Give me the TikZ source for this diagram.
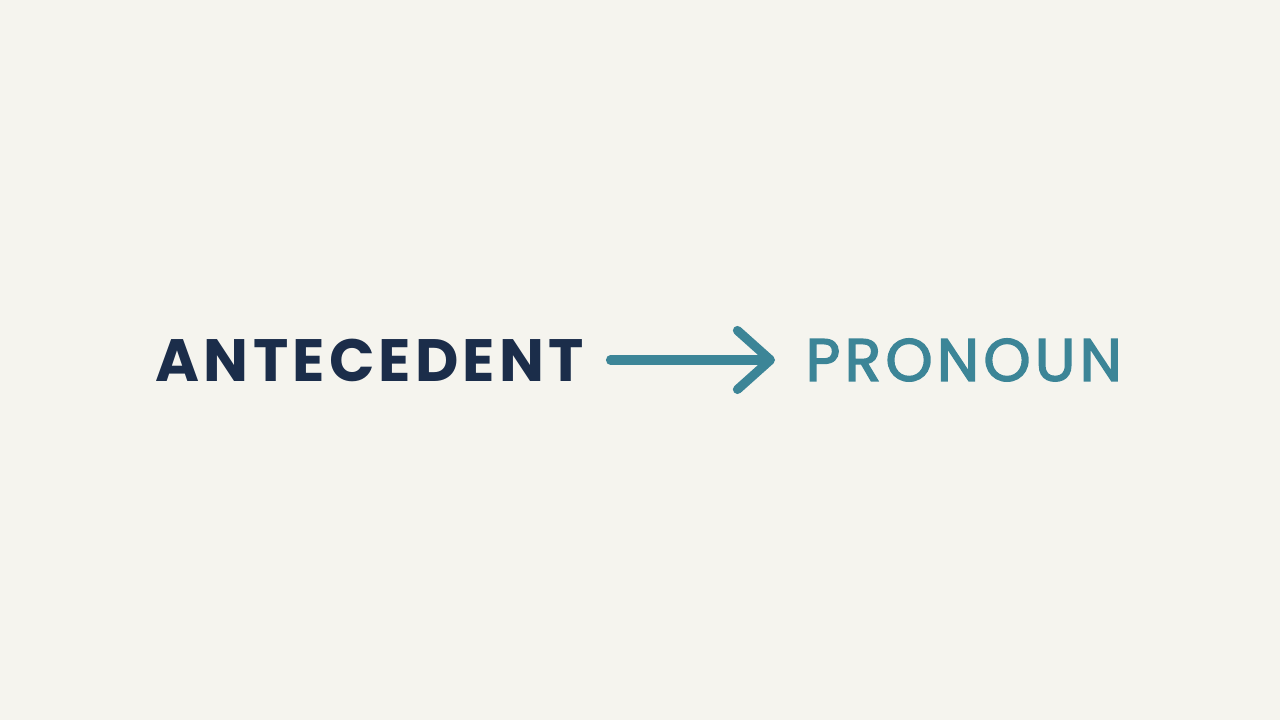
\documentclass[tikz,border=0pt]{standalone}
\usepackage{fontspec}
\setmainfont{Poppins}
\usepackage{xcolor}
\usetikzlibrary{arrows.meta,positioning}
\definecolor{paper}{HTML}{F5F4EE}
\definecolor{navy}{HTML}{1B2D4A}
\definecolor{teal}{HTML}{3C8597}
\tikzset{
  word/.style={inner sep=0pt,font=\fontsize{17}{18}\selectfont},
  link/.style={draw=teal,line width=2.6pt,line cap=round,
    -{Straight Barb[length=3.3mm,width=5.9mm,round]}}
}
\begin{document}
\begin{tikzpicture}
  \fill [paper] (0,0) rectangle (12.8,7.2);
  \useasboundingbox (0,0) rectangle (12.8,7.2);
  \node [word,navy,anchor=west] (ante) at (1.55,3.60)
    {\addfontfeature{LetterSpace=7}\bfseries ANTECEDENT};
  \node [word,teal,anchor=west] (pron) at (8.05,3.60)
    {\addfontfeature{LetterSpace=7.5,FakeBold=2.5}PRONOUN};
  \draw [link,shorten <=2.6mm,shorten >=3.0mm] (ante.east) -- (pron.west);
\end{tikzpicture}
\end{document}
